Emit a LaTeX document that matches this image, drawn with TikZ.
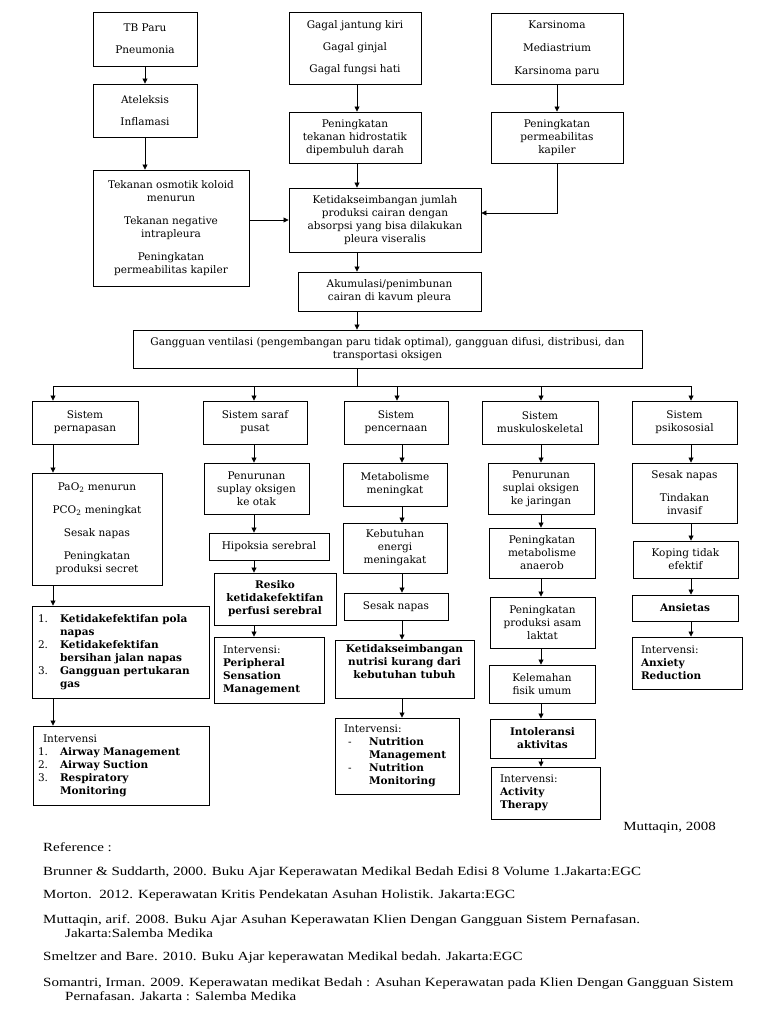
\documentclass[tikz,border=0pt]{standalone}
\usepackage{fontspec}
\setmainfont{DejaVu Serif}
\newfontfamily\reffont[FakeStretch=1.2]{Liberation Serif}
\usetikzlibrary{positioning, arrows.meta}

\begin{document}
\begin{tikzpicture}[
        x=1pt, y=-1pt,
        box/.style={
            draw, line width=0.9pt, align=center,
            font=\fontsize{10.5}{13}\selectfont,
            inner sep=1pt
        },
        lbox/.style={box, align=left, inner xsep=9pt}, % left aligned text
        arr/.style={-{Triangle[length=5pt, width=5pt]}, line width=0.8pt},
        reftext/.style={anchor=west, align=left, inner sep=0pt,
            font=\reffont\fontsize{12.5}{14}\selectfont}
      ]
        \fill[white] (0,0) rectangle (768,1024);
        \useasboundingbox (0,0) rectangle (768,1024);

        % upper part
        \node[box, minimum width=104, minimum height=54] (tb) at (145,39) {TB Paru\\[9pt]Pneumonia};
        \node[box, minimum width=104, minimum height=53] (atel) at (145,110.5) {Ateleksis\\[9pt]Inflamasi};
        \node[box, minimum width=156, minimum height=116] (tekan) at (171,228)
            {Tekanan osmotik koloid\\menurun\\[10pt]Tekanan negative\\intrapleura\\[10pt]Peningkatan\\permeabilitas kapiler};
        \node[box, minimum width=132, minimum height=72] (gagal) at (355,48)
            {Gagal jantung kiri\\[9pt]Gagal ginjal\\[9pt]Gagal fungsi hati};
        \node[box, minimum width=132, minimum height=51] (hidro) at (355,137.5)
            {Peningkatan\\tekanan hidrostatik\\dipembuluh darah};
        \node[box, minimum width=132, minimum height=71] (karsi) at (557,48.5)
            {Karsinoma\\[10pt]Mediastrium\\[10pt]Karsinoma paru};
        \node[box, minimum width=132, minimum height=51] (kapiler) at (557,137.5)
            {Peningkatan\\permeabilitas\\kapiler};
        \node[box, minimum width=192, minimum height=64] (ketidak) at (385,220)
            {Ketidakseimbangan jumlah\\produksi cairan dengan\\absorpsi yang bisa dilakukan\\pleura viseralis};
        \node[box, minimum width=183, minimum height=39] (akum) at (389.5,291.5)
            {Akumulasi/penimbunan\\cairan di kavum pleura};
        \node[box, minimum width=509, minimum height=38] (gangguan) at (387.5,349)
            {Gangguan ventilasi (pengembangan paru tidak optimal), gangguan difusi, distribusi, dan\\transportasi oksigen};

        % systems
        \node[box, minimum width=106, minimum height=43] (sp) at (85,422.5) {Sistem\\pernapasan};
        \node[box, minimum width=104, minimum height=43] (ss) at (255,422.5) {Sistem saraf\\pusat};
        \node[box, minimum width=104, minimum height=43] (sc) at (396,422.5) {Sistem\\pencernaan};
        \node[box, minimum width=116, minimum height=43] (sm) at (540,422.5) {Sistem\\muskuloskeletal};
        \node[box, minimum width=105, minimum height=43] (sk) at (684.5,422.5) {Sistem\\psikososial};

        % pernapasan
        \node[box, minimum width=130, minimum height=112] (pao) at (97,529)
            {PaO\textsubscript{2} menurun\\[10pt]PCO\textsubscript{2} meningkat\\[10pt]Sesak napas\\[10pt]Peningkatan\\produksi secret};
        \node[lbox, inner xsep=6pt, text width=165, minimum height=92] (dx) at (120.5,652)
            {\makebox[22pt][l]{1.}\textbf{Ketidakefektifan pola}\\\hspace*{22pt}\textbf{napas}\\
             \makebox[22pt][l]{2.}\textbf{Ketidakefektifan}\\\hspace*{22pt}\textbf{bersihan jalan napas}\\
             \makebox[22pt][l]{3.}\textbf{Gangguan pertukaran}\\\hspace*{22pt}\textbf{gas}};
        \node[lbox, inner xsep=5pt, text width=166, minimum height=79] (iv1) at (121,765.5)
            {\hspace*{5pt}Intervensi\\
             \makebox[22pt][l]{1.}\textbf{Airway Management}\\
             \makebox[22pt][l]{2.}\textbf{Airway Suction}\\
             \makebox[22pt][l]{3.}\textbf{Respiratory}\\\hspace*{22pt}\textbf{Monitoring}};

        % saraf pusat
        \node[box, minimum width=105, minimum height=51] (ss1) at (256.5,488.5) {Penurunan\\suplay oksigen\\ke otak};
        \node[box, minimum width=120, minimum height=27] (ss2) at (269,546.5) {Hipoksia serebral};
        \node[box, minimum width=122, minimum height=52, font=\fontsize{10.5}{13}\selectfont\bfseries] (ss3) at (275,599)
            {Resiko\\ketidakefektifan\\perfusi serebral};
        \node[lbox, text width=92, minimum height=66] (iv2) at (269,670)
            {Intervensi:\\\textbf{Peripheral}\\\textbf{Sensation}\\\textbf{Management}};

        % pencernaan
        \node[box, minimum width=104, minimum height=43] (sc1) at (395,484.5) {Metabolisme\\meningkat};
        \node[box, minimum width=104, minimum height=50] (sc2) at (395,548) {Kebutuhan\\energi\\meningakat};
        \node[box, minimum width=104, minimum height=27] (sc3) at (396,606.5) {Sesak napas};
        \node[box, minimum width=139, minimum height=58, font=\fontsize{10.5}{13}\selectfont\bfseries] (sc4) at (404.5,669)
            {Ketidakseimbangan\\nutrisi kurang dari\\kebutuhan tubuh\\[2pt]};
        \node[lbox, text width=106, minimum height=76] (iv3) at (397,756)
            {Intervensi:\\
             \hspace*{4pt}\makebox[21pt][l]{-}\textbf{Nutrition}\\\hspace*{25pt}\textbf{Management}\\
             \hspace*{4pt}\makebox[21pt][l]{-}\textbf{Nutrition}\\\hspace*{25pt}\textbf{Monitoring}};

        % muskuloskeletal
        \node[box, minimum width=106, minimum height=51] (sm1) at (541,488.5) {Penurunan\\suplai oksigen\\ke jaringan};
        \node[box, minimum width=106, minimum height=50] (sm2) at (542,553) {Peningkatan\\metabolisme\\anaerob};
        \node[box, minimum width=105, minimum height=51] (sm3) at (542.5,622.5) {Peningkatan\\produksi asam\\laktat};
        \node[box, minimum width=106, minimum height=38] (sm4) at (542,684) {Kelemahan\\fisik umum};
        \node[box, minimum width=105, minimum height=39, font=\fontsize{10.5}{13}\selectfont\bfseries] (sm5) at (542.5,738.5)
            {Intoleransi\\aktivitas};
        \node[lbox, text width=91, minimum height=52] (iv4) at (545.5,793)
            {Intervensi:\\\textbf{Activity}\\\textbf{Therapy}};

        % psikososial
        \node[box, minimum width=105, minimum height=60] (sk1) at (684.5,493) {Sesak napas\\[10pt]Tindakan\\invasif};
        \node[box, minimum width=105, minimum height=37] (sk2) at (685.5,559.5) {Koping tidak\\efektif};
        \node[box, minimum width=106, minimum height=26, font=\fontsize{10.5}{13}\selectfont\bfseries] (sk3) at (685,608) {Ansietas};
        \node[lbox, text width=92, minimum height=52] (iv5) at (687,663)
            {Intervensi:\\\textbf{Anxiety}\\\textbf{Reduction}};

        % connectors
        \coordinate (jn) at (357,386);
        \coordinate (c1) at (53,386);
        \coordinate (c2) at (254,386);
        \coordinate (c3) at (397,386);
        \coordinate (k3) at (402,386);
        \coordinate (c4) at (541,386);
        \coordinate (c5) at (691,386);

        \draw[arr] (tb) -- (atel);
        \draw[arr] (atel) -- (tekan.north -| atel);
        \draw[arr] (tekan.east |- ketidak) -- (ketidak.west);
        \draw[arr] (gagal.south -| jn) -- (hidro.north -| jn);
        \draw[arr] (hidro.south -| jn) -- (ketidak.north -| jn);
        \draw[arr] (karsi) -- (kapiler);
        \draw[arr] (kapiler.south) |- ([yshift=7pt]ketidak.east);
        \draw[arr] (ketidak.south -| jn) -- (akum.north -| jn);
        \draw[arr] (akum.south -| jn) -- (gangguan.north -| jn);
        \draw[line width=0.8pt] (gangguan.south -| jn) -- (jn);
        \draw[line width=0.8pt] (c1) -- (c5);
        \draw[arr] (c1) -- (sp.north -| c1);
        \draw[arr] (c2) -- (ss.north -| c2);
        \draw[arr] (c3) -- (sc.north -| c3);
        \draw[arr] (c4) -- (sm.north -| c4);
        \draw[arr] (c5) -- (sk.north -| c5);

        \draw[arr] (sp.south -| c1) -- (pao.north -| c1);
        \draw[arr] (pao.south -| c1) -- (dx.north -| c1);
        \draw[arr] (dx.south -| c1) -- (iv1.north -| c1);

        \draw[arr] (ss.south -| c2) -- (ss1.north -| c2);
        \draw[arr] (ss1.south -| c2) -- (ss2.north -| c2);
        \draw[arr] (ss2.south -| c2) -- (ss3.north -| c2);
        \draw[arr] (ss3.south -| c2) -- (iv2.north -| c2);

        \draw[arr] (sc.south -| k3) -- (sc1.north -| k3);
        \draw[arr] (sc1.south -| k3) -- (sc2.north -| k3);
        \draw[arr] (sc2.south -| k3) -- (sc3.north -| k3);
        \draw[arr] (sc3.south -| k3) -- (sc4.north -| k3);
        \draw[arr] (sc4.south -| k3) -- (iv3.north -| k3);

        \draw[arr] (sm.south -| c4) -- (sm1.north -| c4);
        \draw[arr] (sm1.south -| c4) -- (sm2.north -| c4);
        \draw[arr] (sm2.south -| c4) -- (sm3.north -| c4);
        \draw[arr] (sm3.south -| c4) -- (sm4.north -| c4);
        \draw[arr] (sm4.south -| c4) -- (sm5.north -| c4);
        \draw[arr] (sm5.south -| c4) -- (iv4.north -| c4);

        \draw[arr] (sk.south -| c5) -- (sk1.north -| c5);
        \draw[arr] (sk1.south -| c5) -- (sk2.north -| c5);
        \draw[arr] (sk2.south -| c5) -- (sk3.north -| c5);
        \draw[arr] (sk3.south -| c5) -- (iv5.north -| c5);

        % source and references
        \node[reftext, anchor=east] (src) at (716,828) {Muttaqin, 2008};
        \node[reftext] (ref0) at (43,847) {Reference :};
        \node[reftext] (ref1) at (43,872) {Brunner \& Suddarth, 2000. Buku Ajar Keperawatan Medikal Bedah Edisi 8 Volume 1.Jakarta:EGC};
        \node[reftext] (ref2) at (43,895) {Morton.\ \ 2012. Keperawatan Kritis Pendekatan Asuhan Holistik. Jakarta:EGC};
        \node[reftext] (ref3) at (43,926) {Muttaqin, arif. 2008. Buku Ajar Asuhan Keperawatan Klien Dengan Gangguan Sistem Pernafasan.\\\hspace*{22pt}Jakarta:Salemba Medika};
        \node[reftext] (ref4) at (43,957) {Smeltzer and Bare. 2010. Buku Ajar keperawatan Medikal bedah. Jakarta:EGC};
        \node[reftext] (ref5) at (43,989) {Somantri, Irman. 2009. Keperawatan medikat Bedah : Asuhan Keperawatan pada Klien Dengan Gangguan Sistem\\\hspace*{22pt}Pernafasan. Jakarta : Salemba Medika};
      \end{tikzpicture}
\end{document}
